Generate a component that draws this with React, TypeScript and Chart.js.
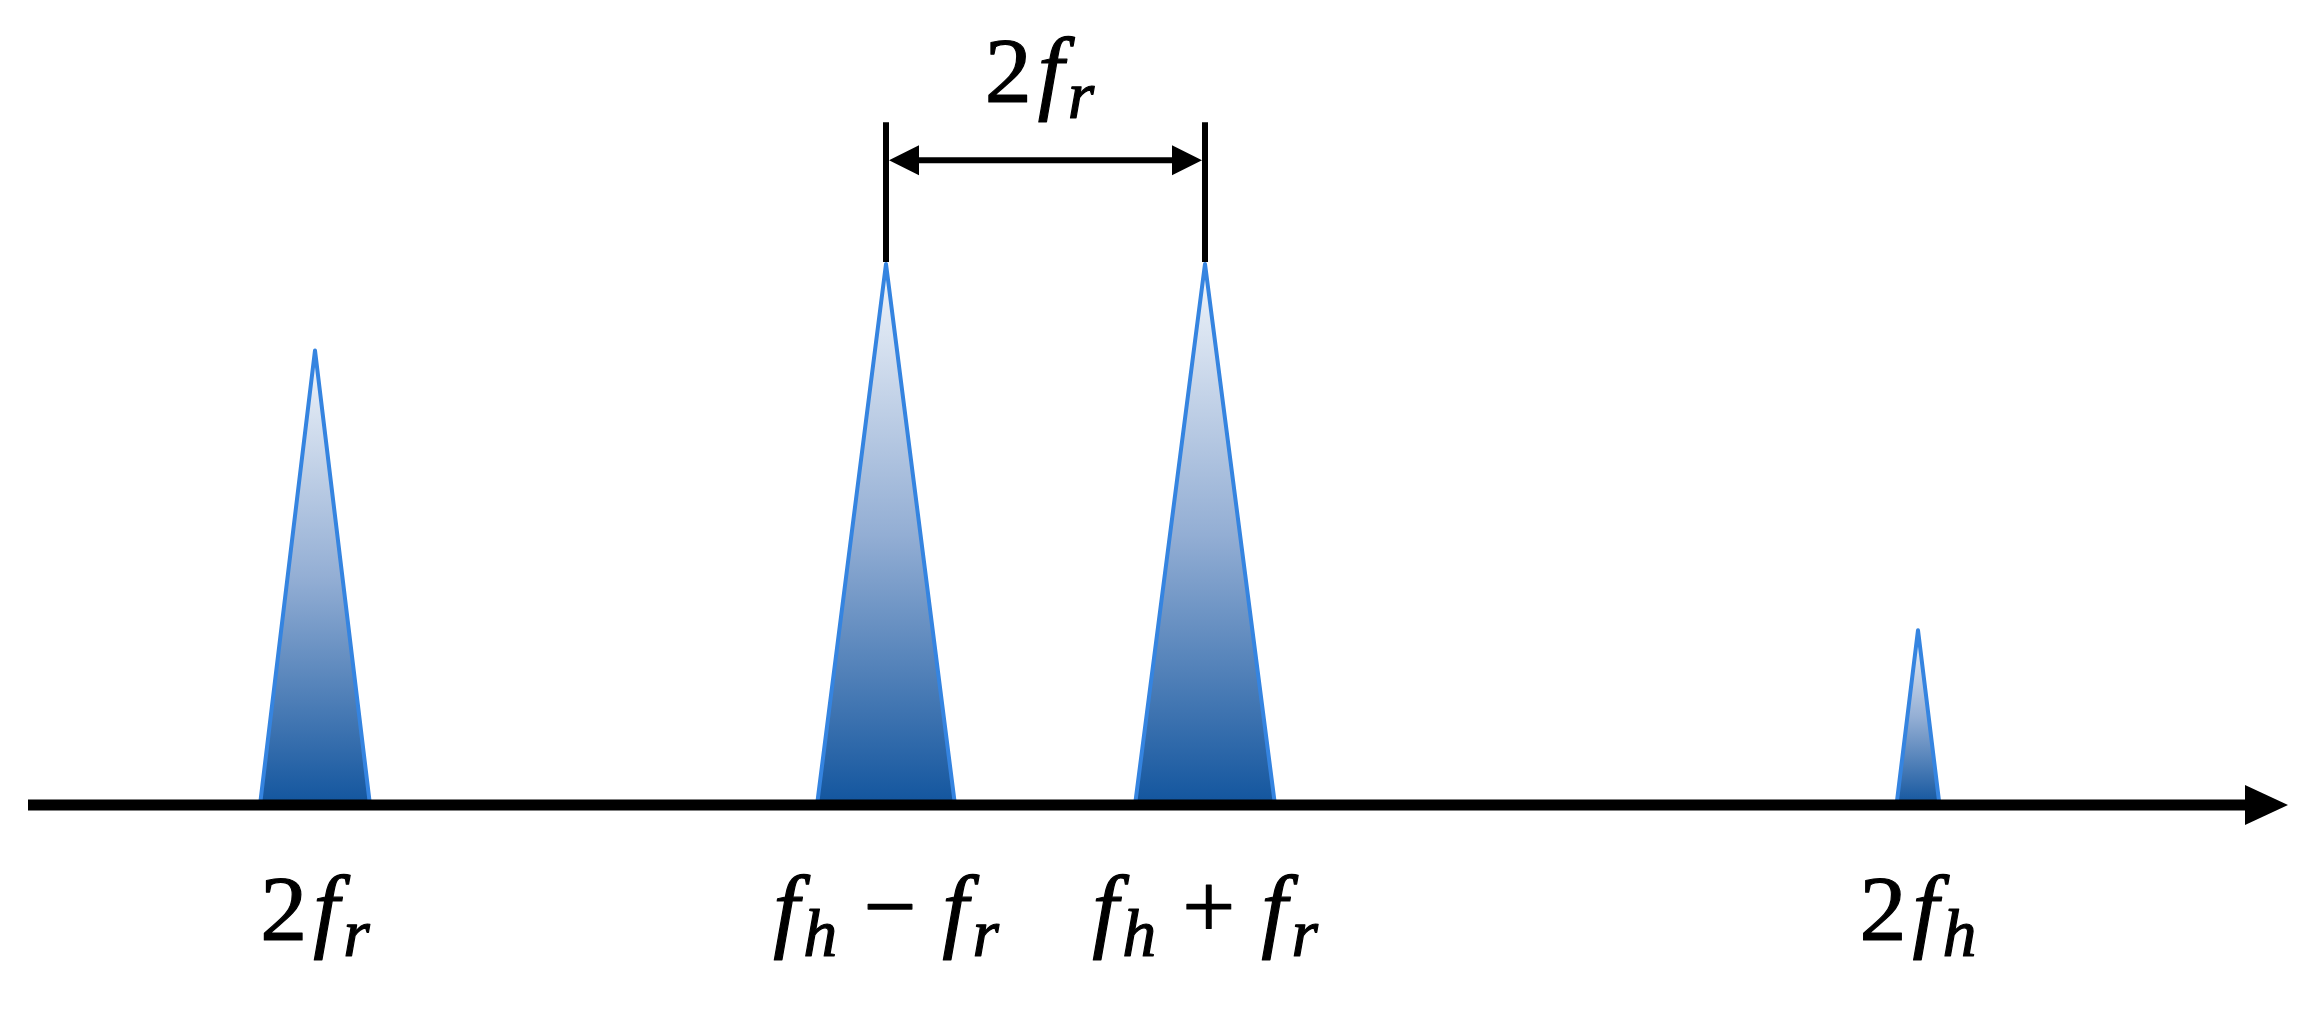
import { useEffect, useRef } from 'react';
import { Chart, registerables } from 'chart.js';

Chart.register(...registerables);

// ---- data ----
const peakLabels = ['2f_r', 'f_h − f_r', 'f_h + f_r', '2f_h'];
const peakCenters = [31.5, 88.6, 120.5, 191.8];
const peakHalfWidths = [5.5, 6.9, 7.0, 2.15];
const peakHeights = [0.84, 1.0, 1.0, 0.323];

const spanPeaks = [1, 2];
const spanLabel = '2f_r';

// ---- layout constants (scale units) ----
const X_MIN = 0;
const X_MAX = 231.7;
const Y_MIN = -0.3826;
const Y_MAX = 1.488;
const AXIS_START = 2.8;
const AXIS_TIP = 228.8;
const ARROW_LEN = 4.3;
const ARROW_HALF = 0.037;
const DIM_TOP = 1.262;
const DIM_ARROW_Y = 1.192;
const DIM_LABEL_Y = 1.30;
const TICK_LABEL_Y = -0.2495;

const MAIN_SIZE = 94;
const SUB_SIZE = 68;

type Tok = { text: string; kind: 'num' | 'var' | 'sub' | 'op' };

function parseMath(s: string): Tok[] {
  const out: Tok[] = [];
  for (let i = 0; i < s.length; i++) {
    const ch = s[i];
    if (ch === ' ') continue;
    if (ch === '_') {
      out.push({ text: s[i + 1], kind: 'sub' });
      i++;
      continue;
    }
    if (ch === '−' || ch === '+') out.push({ text: ch, kind: 'op' });
    else if (/[0-9]/.test(ch)) out.push({ text: ch, kind: 'num' });
    else out.push({ text: ch, kind: 'var' });
  }
  return out;
}

function fontFor(kind: Tok['kind']) {
  if (kind === 'num' || kind === 'op') return MAIN_SIZE + 'px "Liberation Serif"';
  if (kind === 'var') return 'italic ' + MAIN_SIZE + 'px "Liberation Serif"';
  return 'italic ' + SUB_SIZE + 'px "Liberation Serif"';
}

function gapBefore(prev: Tok | null, cur: Tok) {
  if (!prev) return 0;
  if (cur.kind === 'op' || prev.kind === 'op') return 26;
  if (cur.kind === 'sub') return 4;
  if (prev.kind === 'num' && cur.kind === 'var') return 6;
  return 4;
}

function drawMath(c: CanvasRenderingContext2D, s: string, cx: number, baseline: number) {
  const toks = parseMath(s);
  let total = 0;
  const widths: number[] = [];
  toks.forEach((t, i) => {
    c.font = fontFor(t.kind);
    const w = c.measureText(t.text).width;
    widths.push(w);
    total += gapBefore(i ? toks[i - 1] : null, t) + w;
  });
  let x = cx - total / 2;
  c.save();
  c.fillStyle = '#000';
  c.strokeStyle = '#000';
  c.lineWidth = 1.2;
  c.lineJoin = 'round';
  c.textBaseline = 'alphabetic';
  c.textAlign = 'left';
  toks.forEach((t, i) => {
    x += gapBefore(i ? toks[i - 1] : null, t);
    c.font = fontFor(t.kind);
    const y = t.kind === 'sub' ? baseline + 16 : t.kind === 'op' ? baseline - 2 : baseline;
    c.fillText(t.text, x, y);
    c.strokeText(t.text, x, y);
    x += widths[i];
  });
  c.restore();
}

const overlayPlugin = {
  id: 'overlay',
  afterDatasetsDraw(chart: any) {
    const c: CanvasRenderingContext2D = chart.ctx;
    const xs = chart.scales.x;
    const ys = chart.scales.y;
    const px = (v: number) => xs.getPixelForValue(v);
    const py = (v: number) => ys.getPixelForValue(v);

    // axis arrowhead
    c.save();
    c.fillStyle = '#000';
    c.beginPath();
    c.moveTo(px(AXIS_TIP), py(0));
    c.lineTo(px(AXIS_TIP - ARROW_LEN), py(ARROW_HALF));
    c.lineTo(px(AXIS_TIP - ARROW_LEN), py(-ARROW_HALF));
    c.closePath();
    c.fill();

    // dimension lines
    const xa = px(peakCenters[spanPeaks[0]]);
    const xb = px(peakCenters[spanPeaks[1]]);
    c.strokeStyle = '#000';
    c.lineWidth = 6;
    c.lineCap = 'butt';
    [xa, xb].forEach((xx) => {
      c.beginPath();
      c.moveTo(xx, py(peakHeights[spanPeaks[0]]) - 2);
      c.lineTo(xx, py(DIM_TOP));
      c.stroke();
    });
    const ay = py(DIM_ARROW_Y);
    const aLen = 30;
    const aHalf = 15;
    const l = xa + 3;
    const r = xb - 3;
    c.lineWidth = 6;
    c.beginPath();
    c.moveTo(l + aLen - 4, ay);
    c.lineTo(r - aLen + 4, ay);
    c.stroke();
    c.beginPath();
    c.moveTo(l, ay);
    c.lineTo(l + aLen, ay - aHalf);
    c.lineTo(l + aLen, ay + aHalf);
    c.closePath();
    c.fill();
    c.beginPath();
    c.moveTo(r, ay);
    c.lineTo(r - aLen, ay - aHalf);
    c.lineTo(r - aLen, ay + aHalf);
    c.closePath();
    c.fill();
    c.restore();

    // labels
    drawMath(c, spanLabel, (xa + xb) / 2 - 6, py(DIM_LABEL_Y));
    peakLabels.forEach((lab, i) => {
      drawMath(c, lab, px(peakCenters[i]), py(TICK_LABEL_Y));
    });
  },
};

export default function App() {
  const ref = useRef<HTMLCanvasElement>(null);
  useEffect(() => {
    document.body.style.margin = '0';
    const canvas = ref.current!;
    let alive = true;
    const peakDatasets = peakCenters.map((cx, i) => ({
      type: 'line' as const,
      data: [
        { x: cx - peakHalfWidths[i], y: 0 },
        { x: cx, y: peakHeights[i] },
        { x: cx + peakHalfWidths[i], y: 0 },
      ],
      borderColor: '#3584e0',
      borderWidth: 4,
      borderJoinStyle: 'round' as const,
      pointRadius: 0,
      tension: 0,
      fill: 'origin',
      order: 2,
      backgroundColor: (ctx: any) => {
        const ch = ctx.chart;
        if (!ch.chartArea || !ch.scales.y) return '#6f93c4';
        const top = ch.scales.y.getPixelForValue(peakHeights[i]);
        const bottom = ch.scales.y.getPixelForValue(0);
        const g = ch.ctx.createLinearGradient(0, top, 0, bottom);
        g.addColorStop(0, '#f2f6fb');
        g.addColorStop(0.5, '#93aed4');
        g.addColorStop(1, '#12559e');
        return g;
      },
    }));
    const axisDataset = {
      type: 'line' as const,
      data: [
        { x: AXIS_START, y: 0 },
        { x: AXIS_TIP - ARROW_LEN + 0.5, y: 0 },
      ],
      borderColor: '#000',
      borderWidth: 11,
      pointRadius: 0,
      fill: false,
      order: 0,
    };
    const chart = new Chart(canvas, {
      type: 'line',
      data: { datasets: [axisDataset, ...peakDatasets] as any },
      options: {
        animation: false,
        responsive: false,
        devicePixelRatio: 1,
        events: [],
        layout: { padding: 0 },
        font: { family: '"Liberation Serif"' },
        plugins: { legend: { display: false }, tooltip: { enabled: false } },
        scales: {
          x: { type: 'linear', min: X_MIN, max: X_MAX, display: false },
          y: { type: 'linear', min: Y_MIN, max: Y_MAX, display: false },
        },
      },
      plugins: [overlayPlugin],
    });
    const fonts: any = (document as any).fonts;
    if (fonts && fonts.load) {
      Promise.all([
        fonts.load(fontFor('num'), '2'),
        fonts.load(fontFor('var'), 'fh'),
        fonts.load(fontFor('sub'), 'rh'),
      ])
        .then(() => {
          if (alive) chart.draw();
        })
        .catch(() => {});
    }
    return () => {
      alive = false;
      chart.destroy();
    };
  }, []);
  return (
    <div style={{ width: 2317, height: 1012, background: '#fff', position: 'relative', overflow: 'hidden' }}>
      <canvas ref={ref} width={2317} height={1012} style={{ display: 'block' }} />
      <span
        aria-hidden="true"
        style={{ position: 'absolute', left: -9999, top: 0, fontFamily: '"Liberation Serif"', fontStyle: 'italic' }}
      >
        2fh
      </span>
    </div>
  );
}
